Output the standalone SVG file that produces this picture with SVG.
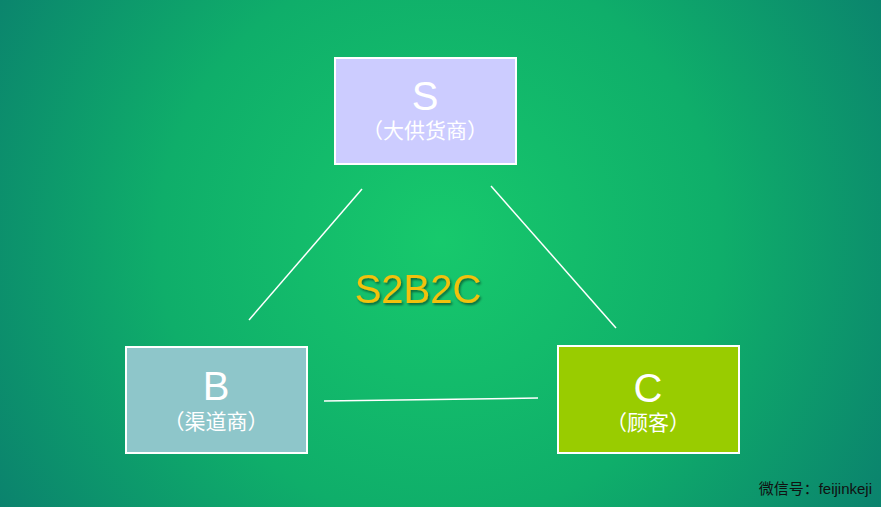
<svg xmlns="http://www.w3.org/2000/svg" width="881" height="507" viewBox="0 0 881 507">
<defs>
<radialGradient id="bg" cx="440" cy="240" r="560" gradientUnits="userSpaceOnUse">
<stop offset="0" stop-color="#17c96c"/>
<stop offset="0.5" stop-color="#0fae6a"/>
<stop offset="1" stop-color="#0a7a6e"/>
</radialGradient>
<filter id="sh" x="-10%" y="-10%" width="130%" height="140%"><feDropShadow dx="1.5" dy="2" stdDeviation="1.2" flood-color="#000" flood-opacity="0.45"/></filter>
</defs>
<style>
.box{stroke:#fff;stroke-width:2}
.big{font-family:"Liberation Sans",Arial,sans-serif;font-size:40px;fill:#fff;text-anchor:middle}
.sub{font-family:"Liberation Sans","Noto Sans CJK SC",sans-serif;font-size:21px;fill:#fff;text-anchor:middle}
.ln{stroke:#fff;stroke-width:1.5;fill:none}
</style>
<rect width="881" height="507" fill="url(#bg)"/>
<g id="connectors">
<line class="ln" x1="362" y1="189" x2="249" y2="320"/>
<line class="ln" x1="491" y1="186" x2="616" y2="328"/>
<line class="ln" x1="324" y1="401" x2="538" y2="398"/>
</g>
<g id="nodeS">
<rect class="box" x="335" y="58" width="181" height="106" fill="#ccccff"/>
<text class="big" x="425" y="110">S</text>
<text class="sub" x="425" y="138">（大供货商）</text>
</g>
<g id="nodeB">
<rect class="box" x="126" y="347" width="181" height="106" fill="#8ec6ca"/>
<text class="big" x="216" y="400">B</text>
<text class="sub" x="216" y="429">（渠道商）</text>
</g>
<g id="nodeC">
<rect class="box" x="558" y="346" width="181" height="107" fill="#99cc00"/>
<text class="big" x="648" y="402">C</text>
<text class="sub" x="648" y="430">（顾客）</text>
</g>
<text x="418" y="303" font-family="Liberation Sans,Arial,sans-serif" font-size="40" fill="#f2c10a" text-anchor="middle" filter="url(#sh)">S2B2C</text>
<text x="872" y="494" font-family="Liberation Sans,'Noto Sans CJK SC',sans-serif" font-size="15" fill="#111" text-anchor="end">微信号：feijinkeji</text>
</svg>
